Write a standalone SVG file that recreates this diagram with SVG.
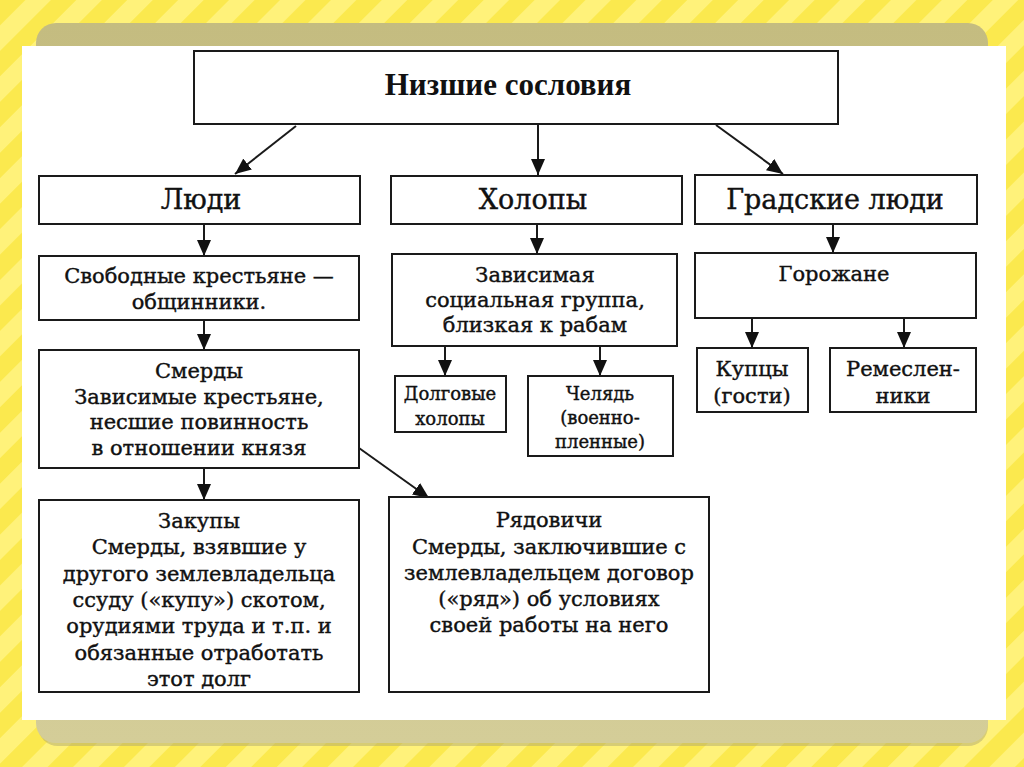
<svg xmlns="http://www.w3.org/2000/svg" width="1024" height="767" viewBox="0 0 1024 767">
<defs>
<pattern id="stripes" width="36" height="36" patternUnits="userSpaceOnUse" patternTransform="rotate(45)">
<rect width="36" height="36" fill="#fff27a"/>
<rect width="18" height="36" fill="#fbe94e"/>
</pattern>
<linearGradient id="olive" x1="0" y1="0" x2="0" y2="1">
<stop offset="0" stop-color="#c4bc80"/>
<stop offset="1" stop-color="#d4cd98"/>
</linearGradient>
<marker id="ah" markerWidth="16" markerHeight="14" refX="16" refY="7" orient="auto" markerUnits="userSpaceOnUse">
<path d="M0,0 L16,7 L0,14 z" fill="#111"/>
</marker>
</defs>
<style>
.box{fill:#fff;stroke:#1a1a1a;stroke-width:2}
.t{font-family:"DejaVu Serif","Liberation Serif",serif;fill:#111;text-anchor:middle;stroke:#111;stroke-width:0.4}
.h{font-size:27px}
.b{font-size:21px}
.s{font-size:18px}
.title{font-family:"Liberation Serif",serif;font-weight:bold;font-size:31px;fill:#111;text-anchor:middle}
.c{stroke:#1a1a1a;stroke-width:2;fill:none;marker-end:url(#ah)}
</style>
<rect width="1024" height="767" fill="url(#stripes)"/>
<rect x="38" y="26" width="950" height="720" rx="20" fill="#b0a870" opacity="0.5"/>
<rect x="36" y="23" width="952" height="720" rx="20" fill="url(#olive)"/>
<rect x="22" y="46" width="984" height="674" fill="#fff"/>

<g id="connectors">
<line class="c" x1="296" y1="126" x2="235" y2="174"/>
<line class="c" x1="538" y1="125" x2="538" y2="175"/>
<line class="c" x1="716" y1="125" x2="783" y2="174"/>
<line class="c" x1="204" y1="224" x2="204" y2="256"/>
<line class="c" x1="537" y1="224" x2="537" y2="254"/>
<line class="c" x1="833" y1="224" x2="833" y2="253"/>
<line class="c" x1="204" y1="320" x2="204" y2="350"/>
<line class="c" x1="445" y1="346" x2="445" y2="376"/>
<line class="c" x1="600" y1="346" x2="600" y2="376"/>
<line class="c" x1="752" y1="318" x2="752" y2="348"/>
<line class="c" x1="904" y1="318" x2="904" y2="348"/>
<line class="c" x1="204" y1="468" x2="204" y2="500"/>
<line class="c" x1="359" y1="448" x2="429" y2="498"/>
</g>

<g id="top">
<rect class="box" x="194" y="51" width="644" height="73"/>
<text class="title" x="508" y="95">Низшие сословия</text>
</g>

<g id="lyudi">
<rect class="box" x="39" y="176" width="321" height="48"/>
<text class="t h" x="201" y="209">Люди</text>
</g>
<g id="holopy">
<rect class="box" x="391" y="176" width="291" height="48"/>
<text class="t h" x="533" y="209">Холопы</text>
</g>
<g id="gradskie">
<rect class="box" x="695" y="175" width="282" height="49"/>
<text class="t h" x="835" y="209">Градские люди</text>
</g>

<g id="svobodnye">
<rect class="box" x="39" y="256" width="320" height="64"/>
<text class="t b" x="199" y="283">Свободные крестьяне —</text>
<text class="t b" x="199" y="309">общинники.</text>
</g>
<g id="zavisimaya">
<rect class="box" x="392" y="254" width="285" height="92"/>
<text class="t b" x="535" y="282">Зависимая</text>
<text class="t b" x="535" y="307">социальная группа,</text>
<text class="t b" x="535" y="332">близкая к рабам</text>
</g>
<g id="gorozhane">
<rect class="box" x="695" y="253" width="281" height="65"/>
<text class="t b" x="834" y="281">Горожане</text>
</g>

<g id="dolgovye">
<rect class="box" x="395" y="376" width="111" height="56"/>
<text class="t s" x="450" y="400">Долговые</text>
<text class="t s" x="450" y="425">холопы</text>
</g>
<g id="chelyad">
<rect class="box" x="528" y="376" width="145" height="80"/>
<text class="t s" x="600" y="400">Челядь</text>
<text class="t s" x="600" y="424">(военно-</text>
<text class="t s" x="600" y="448">пленные)</text>
</g>
<g id="kuptsy">
<rect class="box" x="697" y="348" width="111" height="64"/>
<text class="t b" x="752" y="376">Купцы</text>
<text class="t b" x="752" y="403">(гости)</text>
</g>
<g id="remeslenniki">
<rect class="box" x="830" y="348" width="146" height="64"/>
<text class="t b" x="903" y="376">Ремеслен-</text>
<text class="t b" x="903" y="403">ники</text>
</g>

<g id="smerdy">
<rect class="box" x="39" y="350" width="320" height="118"/>
<text class="t b" x="199" y="378">Смерды</text>
<text class="t b" x="199" y="404">Зависимые крестьяне,</text>
<text class="t b" x="199" y="429">несшие повинность</text>
<text class="t b" x="199" y="455">в отношении князя</text>
</g>

<g id="zakupy">
<rect class="box" x="39" y="500" width="320" height="192"/>
<text class="t b" x="199" y="528">Закупы</text>
<text class="t b" x="199" y="554">Смерды, взявшие у</text>
<text class="t b" x="199" y="581">другого землевладельца</text>
<text class="t b" x="199" y="607">ссуду («купу») скотом,</text>
<text class="t b" x="199" y="633">орудиями труда и т.п. и</text>
<text class="t b" x="199" y="660">обязанные отработать</text>
<text class="t b" x="199" y="686">этот долг</text>
</g>

<g id="ryadovichi">
<rect class="box" x="389" y="497" width="320" height="195"/>
<text class="t b" x="549" y="527">Рядовичи</text>
<text class="t b" x="549" y="554">Смерды, заключившие с</text>
<text class="t b" x="549" y="580">землевладельцем договор</text>
<text class="t b" x="549" y="606">(«ряд») об условиях</text>
<text class="t b" x="549" y="632">своей работы на него</text>
</g>
</svg>
